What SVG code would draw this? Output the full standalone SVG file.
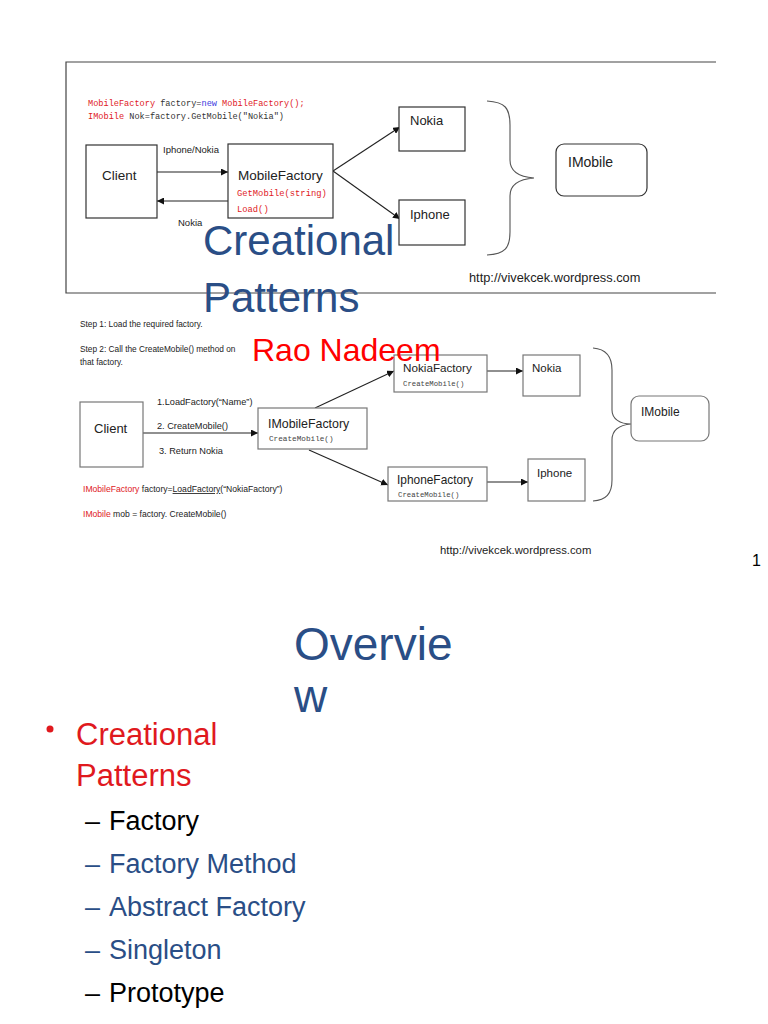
<svg xmlns="http://www.w3.org/2000/svg" width="768" height="1024" viewBox="0 0 768 1024">
<defs>
<marker id="ah" viewBox="0 0 10 10" refX="10" refY="5" markerWidth="7" markerHeight="7" orient="auto" markerUnits="userSpaceOnUse"><path d="M0,0 L10,5 L0,10 z" fill="#111"/></marker>
</defs>
<style>
.bx{fill:#fff;stroke:#333;stroke-width:1.2}
.bx2{fill:#fff;stroke:#777;stroke-width:1.2}
.ln{stroke:#222;stroke-width:1.1;fill:none}
.t{font-family:"Liberation Sans",Arial,sans-serif;fill:#222}
.m{font-family:"Liberation Mono","Courier New",monospace}
.red{fill:#e0191e}
.blue{fill:#2a4e86}
.brace{fill:none;stroke:#555;stroke-width:1.1}
</style>
<rect width="768" height="1024" fill="#fff"/>

<!-- top figure frame -->
<path d="M716,62 L66,62 L66,293 L716,293" fill="none" stroke="#444" stroke-width="1.2"/>
<text class="m" font-size="8.6" x="88" y="106"><tspan class="red">MobileFactory</tspan><tspan fill="#333"> factory=</tspan><tspan fill="#3a3ae0">new</tspan><tspan class="red"> MobileFactory();</tspan></text>
<text class="m" font-size="8.6" x="88" y="119"><tspan class="red">IMobile</tspan><tspan fill="#333"> Nok=factory.GetMobile("Nokia")</tspan></text>

<g id="connectors">
<line class="ln" x1="157" y1="172" x2="228" y2="172" marker-end="url(#ah)"/>
<line class="ln" x1="228" y1="201" x2="157" y2="201" marker-end="url(#ah)"/>
<line class="ln" x1="333" y1="171" x2="400" y2="127" marker-end="url(#ah)"/>
<line class="ln" x1="333" y1="171" x2="400" y2="219" marker-end="url(#ah)"/>
<line class="ln" x1="143" y1="433" x2="258" y2="433" marker-end="url(#ah)"/>
<line class="ln" x1="315" y1="408" x2="394" y2="371" marker-end="url(#ah)"/>
<line class="ln" x1="309" y1="450" x2="388" y2="485" marker-end="url(#ah)"/>
<line class="ln" x1="487" y1="371" x2="523" y2="371" marker-end="url(#ah)"/>
<line class="ln" x1="487" y1="482" x2="528" y2="482" marker-end="url(#ah)"/>
</g>
<text class="t" font-size="9.5" x="163" y="153">Iphone/Nokia</text>
<text class="t" font-size="9.5" x="178" y="226">Nokia</text>

<g id="client1"><rect class="bx" x="86" y="145" width="71" height="73"/><text class="t" font-size="13.5" x="102" y="180">Client</text></g>
<g id="mobilefactory"><rect class="bx" x="228" y="144" width="105" height="74"/><text class="t" font-size="13.5" x="238" y="180">MobileFactory</text>
<text class="m red" font-size="8.8" x="237" y="196">GetMobile(string)</text><text class="m red" font-size="8.8" x="237" y="212">Load()</text></g>
<g id="nokia1"><rect class="bx" x="399" y="107" width="66" height="44"/><text class="t" font-size="13" x="410" y="125">Nokia</text></g>
<g id="iphone1"><rect class="bx" x="399" y="200" width="66" height="45"/><text class="t" font-size="13" x="410" y="219">Iphone</text></g>
<path class="brace" d="M487,101 C505,102 510,108 510,125 L510,160 C510,172 520,177 534,178 C520,179 510,184 510,196 L510,232 C510,248 505,254 487,255"/>
<g id="imobile1"><rect class="bx" x="556" y="144" width="91" height="52" rx="8"/><text class="t" font-size="14" x="568" y="167">IMobile</text></g>
<text class="t" font-size="12.8" x="469" y="282">http://vivekcek.wordpress.com</text>

<!-- second figure -->
<text class="t" font-size="8.3" x="80" y="327">Step 1:  Load the required factory.</text>
<text class="t" font-size="8.3" x="80" y="352">Step 2:  Call the CreateMobile() method on</text>
<text class="t" font-size="8.3" x="80" y="365">that    factory.</text>

<text class="t" font-size="9.2" x="157" y="405">1.LoadFactory(“Name”)</text>
<text class="t" font-size="9.2" x="157" y="429">2. CreateMobile()</text>
<text class="t" font-size="9.2" x="159" y="454">3. Return Nokia</text>

<g id="client2"><rect class="bx2" x="80" y="402" width="63" height="65"/><text class="t" font-size="13" x="94" y="433">Client</text></g>
<g id="imobilefactory"><rect class="bx2" x="258" y="408" width="109" height="41"/><text class="t" font-size="12.4" x="268" y="428">IMobileFactory</text><text class="m" font-size="7.7" x="269" y="441" fill="#444">CreateMobile()</text></g>
<g id="nokiafactory"><rect class="bx2" x="394" y="355" width="93" height="37"/><text class="t" font-size="11.7" x="403" y="372">NokiaFactory</text><text class="m" font-size="7.3" x="403" y="386" fill="#444">CreateMobile()</text></g>
<g id="iphonefactory"><rect class="bx2" x="388" y="467" width="99" height="34"/><text class="t" font-size="11.9" x="397" y="484">IphoneFactory</text><text class="m" font-size="7.3" x="398" y="497" fill="#444">CreateMobile()</text></g>
<g id="nokia2"><rect class="bx2" x="523" y="355" width="57" height="41"/><text class="t" font-size="11.5" x="532" y="372">Nokia</text></g>
<g id="iphone2"><rect class="bx2" x="528" y="459" width="57" height="42"/><text class="t" font-size="11.5" x="537" y="477">Iphone</text></g>
<path class="brace" d="M593,348 C606,349 612,356 612,370 L612,410 C612,419 620,424 631,424 C620,425 612,430 612,440 L612,480 C612,494 606,500 593,501"/>
<g id="imobile2"><rect class="bx2" x="631" y="396" width="78" height="45" rx="8"/><text class="t" font-size="12" x="641" y="416">IMobile</text></g>

<text class="t" font-size="8.6" x="83" y="492"><tspan class="red">IMobileFactory</tspan><tspan> factory=</tspan><tspan text-decoration="underline">LoadFactory</tspan><tspan>(“NokiaFactory”)</tspan></text>
<text class="t" font-size="8.6" x="83" y="517"><tspan class="red">IMobile</tspan><tspan> mob = factory. CreateMobile()</tspan></text>
<text class="t" font-size="11.3" x="440" y="554">http://vivekcek.wordpress.com</text>

<!-- slide title texts -->
<text class="t blue" font-size="42" x="203" y="255">Creational</text>
<text class="t blue" font-size="42" x="203" y="312">Patterns</text>
<text font-family="Liberation Sans, Arial, sans-serif" font-size="32" x="252" y="361" fill="#ff0000">Rao Nadeem</text>
<text font-family="Liberation Sans, Arial, sans-serif" font-size="16" x="752" y="566" fill="#000">1</text>

<text class="t blue" font-size="46" x="294" y="660">Overvie</text>
<text class="t blue" font-size="46" x="294" y="712">w</text>

<circle cx="50" cy="729" r="3.5" fill="#e0191e"/>
<text class="t red" font-size="31" x="76" y="745">Creational</text>
<text class="t red" font-size="31" x="76" y="786">Patterns</text>

<g font-family="Liberation Sans, Arial, sans-serif" font-size="27">
<text x="85" y="830" fill="#000">–</text><text x="109" y="830" fill="#000">Factory</text>
<text x="85" y="873" fill="#2a4e86">–</text><text x="109" y="873" fill="#2a4e86">Factory Method</text>
<text x="85" y="916" fill="#2a4e86">–</text><text x="109" y="916" fill="#2a4e86">Abstract Factory</text>
<text x="85" y="959" fill="#2a4e86">–</text><text x="109" y="959" fill="#2a4e86">Singleton</text>
<text x="85" y="1002" fill="#000">–</text><text x="109" y="1002" fill="#000">Prototype</text>
<text x="85" y="1045" fill="#2a4e86">–</text><text x="109" y="1045" fill="#2a4e86">Builder</text>
</g>
</svg>
